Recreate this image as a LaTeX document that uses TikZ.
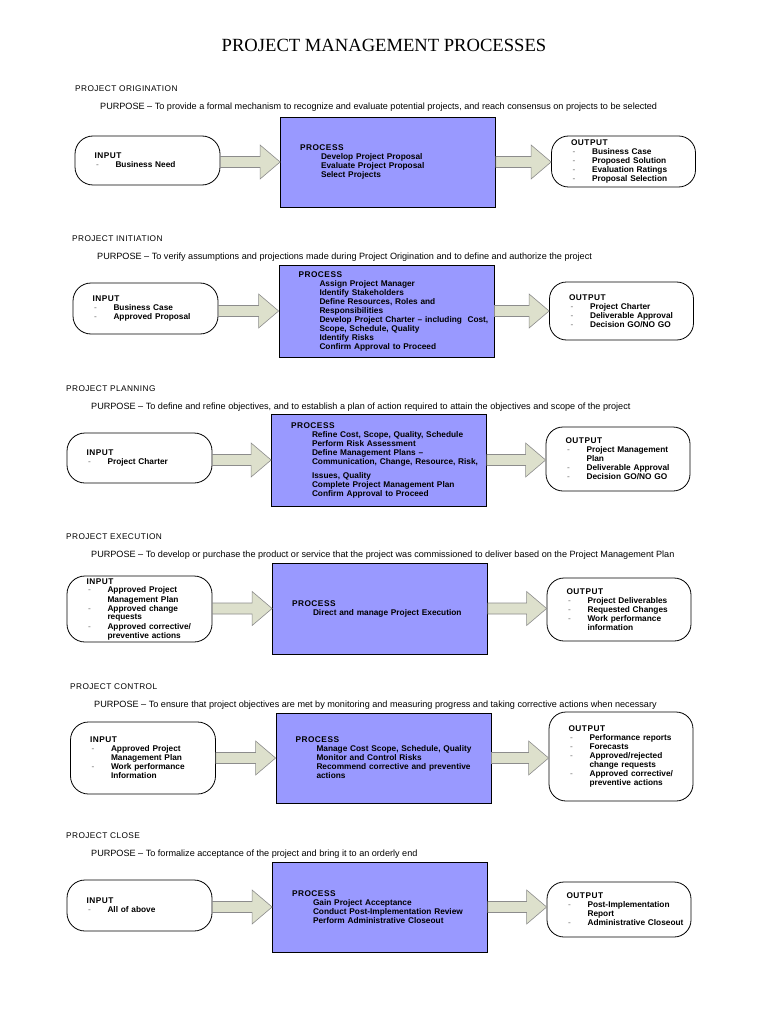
\documentclass[tikz,border=0pt]{standalone}
\usepackage{fontspec}
\setmainfont{Liberation Sans}
\newfontfamily\titlefont{Liberation Serif}
\usetikzlibrary{calc}

\definecolor{procblue}{RGB}{153,153,255}
\definecolor{arrowfill}{RGB}{221,224,204}
\definecolor{arrowline}{RGB}{140,140,140}
\definecolor{dashgray}{RGB}{110,110,110}

\newcommand{\boxfont}{\fontsize{8.3}{9}\selectfont\bfseries}
\newcommand{\secfont}{\fontsize{8.3}{9}\selectfont\addfontfeatures{LetterSpace=5}}
\newcommand{\purposefont}{\fontsize{9.1}{10}\selectfont}
\newcommand{\boxtitle}[1]{{\addfontfeatures{LetterSpace=6}#1}}
\newcommand{\dashitem}[1]{\\\makebox[21pt][l]{\hspace{1.5pt}\mdseries\textcolor{dashgray}{-}}\mbox{#1}}
\newcommand{\plainitem}[1]{\\\hspace*{21pt}\mbox{#1}}
\newcommand{\gapitem}[1]{\\[5pt]\hspace*{21pt}\mbox{#1}}
\newcommand{\blockarrow}[2]{%
  \draw[blockarrow] let \p1 = #1, \p2 = #2 in
    (\x1,\y1+5.5pt) -- (\x2-20pt,\y1+5.5pt) -- (\x2-20pt,\y1+17pt) -- (\x2,\y1)
    -- (\x2-20pt,\y1-17pt) -- (\x2-20pt,\y1-5.5pt) -- (\x1,\y1-5.5pt) -- cycle;}

\tikzset{%
  % Specifications for style of nodes:
        boxbase/.style = {rectangle, draw=black, line width=0.8pt, align=left,
                          inner xsep=19.5pt, inner ysep=2pt, font=\boxfont},
          inbox/.style = {boxbase, rounded corners=18pt, text width=106pt},
         outbox/.style = {boxbase, rounded corners=17pt, text width=105pt},
        procbox/.style = {boxbase, fill=procblue, text width=176pt},
       sectitle/.style = {anchor=base west, inner sep=0pt, font=\secfont},
        purpose/.style = {anchor=base west, inner sep=0pt, font=\purposefont},
     blockarrow/.style = {draw=arrowline, fill=arrowfill, line width=0.6pt}
}

\begin{document}
\begin{tikzpicture}[x=1pt, y=-1pt]
  \path[use as bounding box, fill=white] (0,0) rectangle (768,1024);

  \node (title) [anchor=base, inner sep=0pt] at (384,52)
        {\titlefont\fontsize{18.6}{21}\selectfont PROJECT MANAGEMENT PROCESSES};

  % Project origination
  \node (sec1) [sectitle] at (75,92)  {PROJECT ORIGINATION};
  \node (pur1) [purpose]  at (100,110) {PURPOSE – To provide a formal mechanism to recognize and evaluate potential projects, and reach consensus on projects to be selected};
  \node (in1)   [inbox, minimum height=49pt]   at (147.5,160.5) {\boxtitle{INPUT}\dashitem{Business Need}};
  \node (proc1) [procbox, minimum height=90pt] at (388,162)    {\boxtitle{PROCESS}\plainitem{Develop Project Proposal}\plainitem{Evaluate Project Proposal}\plainitem{Select Projects}};
  \node (out1)  [outbox, minimum height=51pt]  at (623.5,161.5) {\boxtitle{OUTPUT}\dashitem{Business Case}\dashitem{Proposed Solution}\dashitem{Evaluation Ratings}\dashitem{Proposal Selection}};

  % Project initiation
  \node (sec2) [sectitle] at (72,241) {PROJECT INITIATION};
  \node (pur2) [purpose]  at (97,259) {PURPOSE – To verify assumptions and projections made during Project Origination and to define and authorize the project};
  \node (in2)   [inbox, minimum height=51pt]   at (145.5,308.5) {\boxtitle{INPUT}\dashitem{Business Case}\dashitem{Approved Proposal}};
  \node (proc2) [procbox, minimum height=92pt] at (386.5,311)  {\boxtitle{PROCESS}\plainitem{Assign Project Manager}\plainitem{Identify Stakeholders}\plainitem{Define Resources, Roles and}\plainitem{Responsibilities}\plainitem{Develop Project Charter – including\ \ Cost,}\plainitem{Scope, Schedule, Quality}\plainitem{Identify Risks}\plainitem{Confirm Approval to Proceed}};
  \node (out2)  [outbox, minimum height=58pt]  at (621.5,311)  {\boxtitle{OUTPUT}\dashitem{Project Charter}\dashitem{Deliverable Approval}\dashitem{Decision GO/NO GO}};

  % Project planning
  \node (sec3) [sectitle] at (66,391) {PROJECT PLANNING};
  \node (pur3) [purpose]  at (91,409) {PURPOSE – To define and refine objectives, and to establish a plan of action required to attain the objectives and scope of the project};
  \node (in3)   [inbox, minimum height=50pt]   at (139.5,458) {\boxtitle{INPUT}\dashitem{Project Charter}};
  \node (proc3) [procbox, minimum height=92pt] at (379,460)   {\boxtitle{PROCESS}\plainitem{Refine Cost, Scope, Quality, Schedule}\plainitem{Perform Risk Assessment}\plainitem{Define Management Plans –}\plainitem{Communication, Change, Resource, Risk,}\gapitem{Issues, Quality}\plainitem{Complete Project Management Plan}\plainitem{Confirm Approval to Proceed}};
  \node (out3)  [outbox, minimum height=64pt]  at (618,459)   {\boxtitle{OUTPUT}\dashitem{Project Management}\plainitem{Plan}\dashitem{Deliverable Approval}\dashitem{Decision GO/NO GO}};

  % Project execution
  \node (sec4) [sectitle] at (66,539) {PROJECT EXECUTION};
  \node (pur4) [purpose]  at (91,557) {PURPOSE – To develop or purchase the product or service that the project was commissioned to deliver based on the Project Management Plan};
  \node (in4)   [inbox, minimum height=66pt]   at (139.5,609) {\boxtitle{INPUT}\dashitem{Approved Project}\plainitem{Management Plan}\dashitem{Approved change}\plainitem{requests}\dashitem{Approved corrective/}\plainitem{preventive actions}};
  \node (proc4) [procbox, minimum height=91pt] at (380,608.5) {\boxtitle{PROCESS}\plainitem{Direct and manage Project Execution}};
  \node (out4)  [outbox, minimum height=63pt]  at (619,609.5) {\boxtitle{OUTPUT}\dashitem{Project Deliverables}\dashitem{Requested Changes}\dashitem{Work performance}\plainitem{information}};

  % Project control
  \node (sec5) [sectitle] at (70,689) {PROJECT CONTROL};
  \node (pur5) [purpose]  at (94,707) {PURPOSE – To ensure that project objectives are met by monitoring and measuring progress and taking corrective actions when necessary};
  \node (in5)   [inbox, minimum height=72pt]   at (143,758)   {\boxtitle{INPUT}\dashitem{Approved Project}\plainitem{Management Plan}\dashitem{Work performance}\plainitem{Information}};
  \node (proc5) [procbox, minimum height=90pt] at (383.5,758) {\boxtitle{PROCESS}\plainitem{Manage Cost Scope, Schedule, Quality}\plainitem{Monitor and Control Risks}\plainitem{Recommend corrective and preventive}\plainitem{actions}};
  \node (out5)  [outbox, minimum height=89pt]  at (621,756.5) {\boxtitle{OUTPUT}\dashitem{Performance reports}\dashitem{Forecasts}\dashitem{Approved/rejected}\plainitem{change requests}\dashitem{Approved corrective/}\plainitem{preventive actions}};

  % Project close
  \node (sec6) [sectitle] at (66,838) {PROJECT CLOSE};
  \node (pur6) [purpose]  at (91,856) {PURPOSE – To formalize acceptance of the project and bring it to an orderly end};
  \node (in6)   [inbox, minimum height=51pt]   at (139.5,905.5) {\boxtitle{INPUT}\dashitem{All of above}};
  \node (proc6) [procbox, minimum height=90pt] at (380,907)    {\boxtitle{PROCESS}\plainitem{Gain Project Acceptance}\plainitem{Conduct Post-Implementation Review}\plainitem{Perform Administrative Closeout}};
  \node (out6)  [outbox, minimum height=55pt]  at (619,909.5)  {\boxtitle{OUTPUT}\dashitem{Post-Implementation}\plainitem{Report}\dashitem{Administrative Closeout}};

  % Block arrows between the boxes
  \foreach \s in {1,...,6} {
    \blockarrow{(in\s.east |- proc\s.west)}{(proc\s.west)}
    \blockarrow{(proc\s.east)}{(out\s.west |- proc\s.east)}
  }
\end{tikzpicture}
\end{document}
